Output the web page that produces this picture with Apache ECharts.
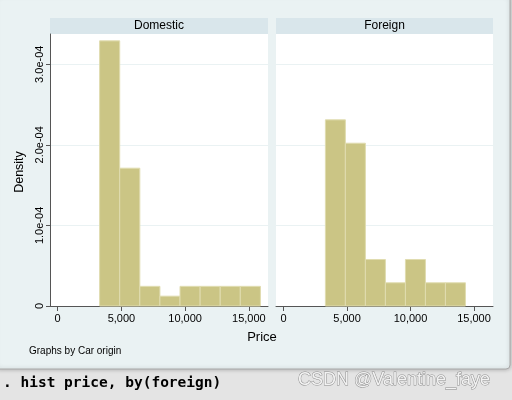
<!DOCTYPE html>
<html>
<head>
<meta charset="utf-8">
<script src="https://cdn.jsdelivr.net/npm/echarts@6/dist/echarts.min.js"></script>
<style>
  html, body { margin: 0; padding: 0; }
  #chart { width: 512px; height: 400px; }
</style>
</head>
<body>
<div id="chart"></div>
<script>
  // histogram bins (price), shared by both panels
  const binEdges = [3291, 4868, 6445, 8022, 9599, 11175, 12752, 14329, 15906];
  // density
  const domesticDensity = [3.29e-4, 1.71e-4, 2.44e-5, 1.22e-5, 2.44e-5, 2.44e-5, 2.44e-5, 2.44e-5];
  const foreignDensity = [2.31e-4, 2.02e-4, 5.77e-5, 2.88e-5, 5.77e-5, 2.88e-5, 2.88e-5, 0];
  const panelNames = ['Domestic', 'Foreign'];
  const xTicks = [0, 5000, 10000, 15000];
  const yTicks = [0, 1e-4, 2e-4, 3e-4];

  const font = 'Liberation Sans, Arial, sans-serif';
  const barFill = '#cbc585';
  const barLine = '#e0dcb0';
  const axisColor = '#555';

  function toBins(dens) {
    let out = [];
    dens.forEach((d, i) => {
      if (d > 0) out.push([binEdges[i], binEdges[i + 1], d]);
    });
    return out;
  }

  function renderBar(params, api) {
    let p0 = api.coord([api.value(0), api.value(2)]);
    let p1 = api.coord([api.value(1), 0]);
    return {
      type: 'rect',
      shape: { x: p0[0], y: p0[1], width: p1[0] - p0[0], height: p1[1] - p0[1] },
      style: { fill: barFill, stroke: barLine, lineWidth: 1 }
    };
  }

  function xAxisOf(idx) {
    return {
      type: 'value',
      gridIndex: idx,
      min: -600,
      max: 16500,
      axisLine: { show: true, onZero: false, lineStyle: { color: axisColor, width: 1 } },
      axisTick: { show: true, length: 5, customValues: xTicks, lineStyle: { color: axisColor } },
      axisLabel: {
        customValues: xTicks,
        margin: 7,
        color: '#000',
        fontSize: 11,
        fontFamily: font,
        formatter: v => v.toLocaleString('en-US')
      },
      splitLine: { show: false }
    };
  }

  function yAxisOf(idx) {
    return {
      type: 'value',
      gridIndex: idx,
      min: 0,
      max: 3.375e-4,
      axisLine: { show: idx === 0, onZero: false, lineStyle: { color: axisColor, width: 1 } },
      axisTick: { show: idx === 0, length: 4, customValues: yTicks, lineStyle: { color: axisColor } },
      axisLabel: {
        show: idx === 0,
        customValues: yTicks,
        rotate: 90,
        margin: 5,
        color: '#000',
        fontSize: 11,
        fontFamily: font,
        formatter: v => v === 0 ? '0' : (v * 1e4).toFixed(1) + 'e-04'
      },
      splitLine: { show: true, lineStyle: { color: '#eaf2f3', width: 1 } }
    };
  }

  const myChart = echarts.init(document.getElementById('chart'));
  myChart.setOption({
    backgroundColor: '#e4e4e4',
    animation: false,
    grid: [
      { left: 50, top: 34, width: 218, height: 272, show: true, backgroundColor: '#fff', borderWidth: 0 },
      { left: 276, top: 34, width: 217, height: 272, show: true, backgroundColor: '#fff', borderWidth: 0 }
    ],
    xAxis: [xAxisOf(0), xAxisOf(1)],
    yAxis: [yAxisOf(0), yAxisOf(1)],
    series: [
      { type: 'custom', xAxisIndex: 0, yAxisIndex: 0, renderItem: renderBar, data: toBins(domesticDensity) },
      { type: 'custom', xAxisIndex: 1, yAxisIndex: 1, renderItem: renderBar, data: toBins(foreignDensity) }
    ],
    graphic: [
      // graph window background
      { type: 'rect', z: -10, shape: { x: -4, y: -4, width: 514, height: 373, r: 4 },
        style: { fill: '#eaf2f3', stroke: '#a9a9a9', lineWidth: 1, shadowBlur: 4, shadowColor: 'rgba(0,0,0,0.25)' } },
      // panel header strips
      { type: 'rect', shape: { x: 50, y: 18, width: 218, height: 16 }, style: { fill: '#d9e6eb' } },
      { type: 'rect', shape: { x: 276, y: 18, width: 217, height: 16 }, style: { fill: '#d9e6eb' } },
      { type: 'text', x: 159, y: 26, style: { text: panelNames[0], fill: '#000', font: '12px ' + font, align: 'center', verticalAlign: 'middle' } },
      { type: 'text', x: 384.5, y: 26, style: { text: panelNames[1], fill: '#000', font: '12px ' + font, align: 'center', verticalAlign: 'middle' } },
      // axis titles and note
      { type: 'text', x: 20, y: 172, rotation: Math.PI / 2, style: { text: 'Density', fill: '#000', font: '12.5px ' + font, align: 'center', verticalAlign: 'middle' } },
      { type: 'text', x: 262, y: 337, style: { text: 'Price', fill: '#000', font: '13px ' + font, align: 'center', verticalAlign: 'middle' } },
      { type: 'text', x: 29, y: 351, style: { text: 'Graphs by Car origin', fill: '#000', font: '10px ' + font, align: 'left', verticalAlign: 'middle' } },
      // console line below the window
      { type: 'text', x: 3, y: 383, style: { text: '. hist price, by(foreign)', fill: '#000', font: 'bold 14.5px DejaVu Sans Mono, monospace', align: 'left', verticalAlign: 'middle' } },
      { type: 'text', x: 298, y: 380, style: { text: 'CSDN @Valentine_faye', fill: '#f2f2f2', stroke: '#8e8e8e', lineWidth: 1, font: '18px ' + font, align: 'left', verticalAlign: 'middle' } }
    ]
  });
</script>
</body>
</html>
